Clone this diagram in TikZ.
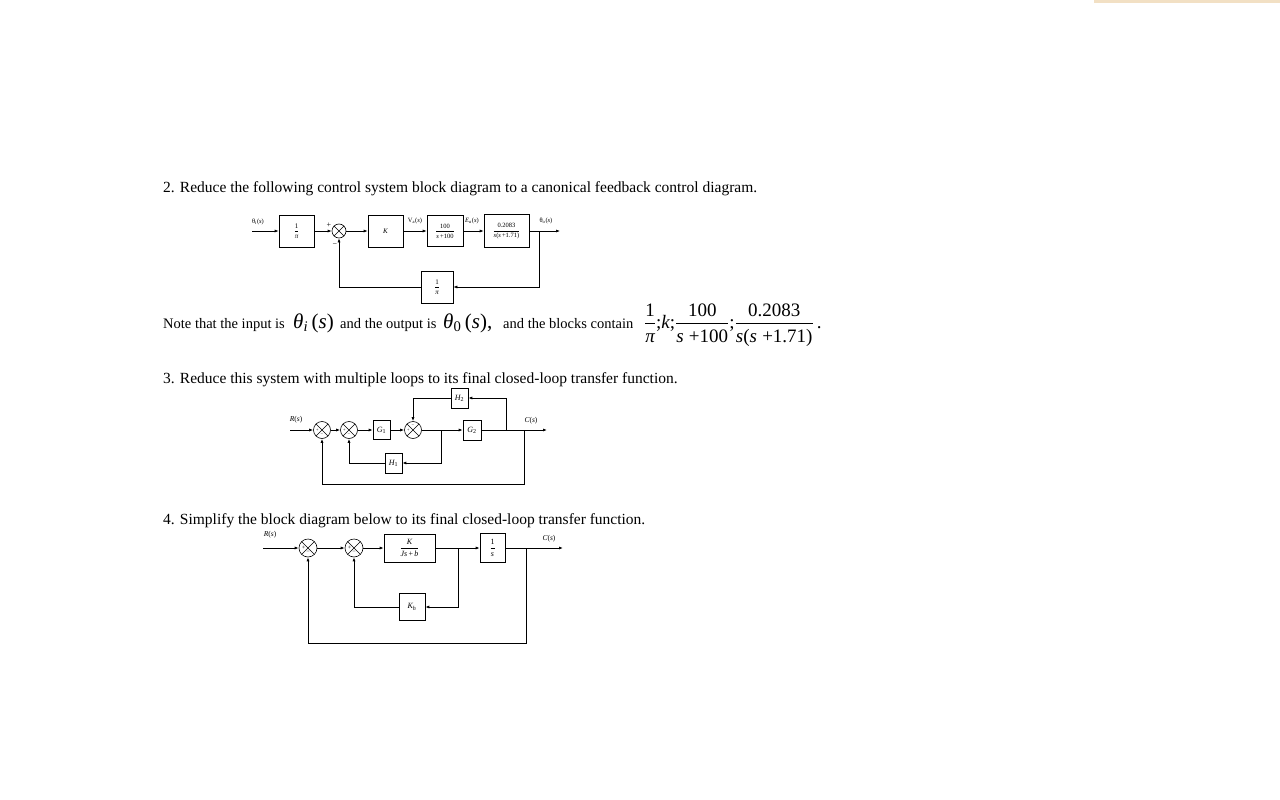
\documentclass[tikz,border=0pt]{standalone}
\usepackage{fontspec}
\setmainfont{Liberation Serif}
\usetikzlibrary{arrows.meta,calc}
\definecolor{tanline}{HTML}{F2E0C4}
\newcommand{\fs}[1]{\fontsize{#1}{#1}\selectfont}
\newcommand{\fr}[2]{$\displaystyle\frac{\mbox{#1}}{\mbox{#2}}$}
\newcommand{\numr}[1]{\mbox{#1\rule[-3pt]{0pt}{3pt}}}
\newcommand{\denr}[1]{\mbox{\rule{0pt}{17pt}#1}}
\begin{document}
\begin{tikzpicture}[x=1pt,y=-1pt,
  blk/.style={draw, line width=0.6pt, inner sep=0pt},
  sj/.style={circle, draw, line width=0.6pt, inner sep=0pt, minimum size=#1,
    path picture={\draw[line width=0.5pt] (path picture bounding box.north west)--(path picture bounding box.south east)
      (path picture bounding box.south west)--(path picture bounding box.north east);}},
  arr/.style={-{Latex[length=4pt,width=3pt]}},
  wa/.style={line width=0.6pt},
  wb/.style={line width=1pt},
  txt/.style={anchor=base west, inner sep=0pt, font=\fs{15.5}},
  ntxt/.style={anchor=base west, inner sep=0pt, font=\fs{14.5}},
  lab/.style={inner sep=0pt, font=\fs{6.5}},
  sgn/.style={inner sep=0pt, font=\fs{8}}
]
\useasboundingbox (0,0) rectangle (1280,800);
\fill[tanline] (1094,0) rectangle (1280,3);

% ---------- headings ----------
\node[txt] (h2) at (163,192) {2. Reduce the following control system block diagram to a canonical feedback control diagram.};
\node[txt] (h3) at (163,383) {3. Reduce this system with multiple loops to its final closed-loop transfer function.};
\node[txt] (h4) at (163,524) {4. Simplify the block diagram below to its final closed-loop transfer function.};

% ---------- note line ----------
\node[ntxt] (n1) at (163,328) {Note that the input is};
\node[ntxt, font=\fs{21}] (n2) at (293,328) {\itshape θ\textsubscript{i}\upshape\,(\itshape s\upshape)};
\node[ntxt] (n3) at (340,328) {and the output is};
\node[ntxt, font=\fs{21}] (n4) at (443,328) {\itshape θ\textsubscript{\upshape 0}\upshape\,(\itshape s\upshape),};
\node[ntxt] (n5) at (503,328) {and the blocks contain};
\node[ntxt, font=\fs{19}] (n6) at (644,328) {$\displaystyle\frac{\numr{1}}{\denr{\itshape π}}\mbox{;\itshape k\upshape;}\frac{\numr{100}}{\denr{\itshape s\upshape\;+100}}\mbox{;}\frac{\numr{0.2083}}{\denr{\itshape s\upshape(\itshape s\upshape\;+1.71)}}\mbox{\,.}$};

% ---------- diagram 1 ----------
\coordinate (in1) at (252,231);
\node[blk, minimum width=35pt, minimum height=32pt] (b1) at (296.5,231) {\fs{7}\fr{1}{\itshape π}};
\node[sj=14pt] (s1) at (339,231) {};
\node[blk, minimum width=35pt, minimum height=32pt] (bK) at (385.5,231) {\fs{7}\itshape K};
\node[blk, minimum width=36pt, minimum height=31pt] (b100) at (445,231) {\fs{6.5}\fr{100}{\itshape s\upshape\,+100}};
\node[blk, minimum width=45pt, minimum height=33pt] (bP) at (506.5,231) {\fs{6.5}\fr{0.2083}{\itshape s\upshape(\itshape s\upshape\,+1.71)}};
\coordinate (p1) at (539,231);
\coordinate (o1) at (560,231);
\node[blk, minimum width=32pt, minimum height=32pt] (bF) at (437,287) {\fs{7}\fr{1}{\itshape π}};
\draw[wa,arr] (in1) -- (b1);
\draw[wa,arr] (b1) -- (s1);
\draw[wa,arr] (s1) -- (bK);
\draw[wa,arr] (bK) -- (b100);
\draw[wa,arr] (b100) -- (bP);
\draw[wa,arr] (bP) -- (o1);
\draw[wa,arr] (p1) |- (bF);
\draw[wa,arr] (bF) -| (s1);
\node[lab] (l1) at (258,222) {θ\textsubscript{i}(\itshape s\upshape)};
\node[lab] (l2) at (415,221) {V\textsubscript{a}(\itshape s\upshape)};
\node[lab] (l3) at (472,221) {\itshape E\textsubscript{a}\upshape(\itshape s\upshape)};
\node[lab] (l4) at (546,221) {θ\textsubscript{o}(\itshape s\upshape)};
\node[sgn] (sp1) at (329,225) {+};
\node[sgn] (sm1) at (335,245) {−};

% ---------- diagram 3 ----------
\coordinate (in3) at (290,430);
\node[sj=17pt] (c1) at (322,430) {};
\node[sj=17pt] (c2) at (349,430) {};
\node[blk, minimum width=17pt, minimum height=19pt] (G1) at (381.5,430) {\fs{8}\itshape G\textsubscript{\upshape 1}};
\node[sj=17pt] (c3) at (413,430) {};
\node[blk, minimum width=18pt, minimum height=20pt] (G2) at (472,430) {\fs{8}\itshape G\textsubscript{\upshape 2}};
\node[blk, minimum width=17pt, minimum height=20pt] (H1) at (393.5,463) {\fs{8}\itshape H\textsubscript{\upshape 1}};
\node[blk, minimum width=17pt, minimum height=20pt] (H2) at (459.5,398) {\fs{8}\itshape H\textsubscript{\upshape 2}};
\coordinate (q1) at (441,430);
\coordinate (q2) at (506,430);
\coordinate (q3) at (524,430);
\coordinate (o3) at (547,430);
\coordinate (r3) at (322,484);
\draw[wb,arr] (in3) -- (c1);
\draw[wb,arr] (c1) -- (c2);
\draw[wb,arr] (c2) -- (G1);
\draw[wb,arr] (G1) -- (c3);
\draw[wb,arr] (c3) -- (G2);
\draw[wb,arr] (G2) -- (o3);
\draw[wb,arr] (q1) |- (H1);
\draw[wb,arr] (H1) -| (c2);
\draw[wb,arr] (q2) |- (H2);
\draw[wb,arr] (H2) -| (c3);
\draw[wb] (q3) |- (r3);
\draw[wb,arr] (r3) -- (c1);
\node[lab, font=\fs{7.5}] (lr3) at (296,420) {\itshape R\upshape(\itshape s\upshape)};
\node[lab, font=\fs{7.5}] (lc3) at (531,421) {\itshape C\upshape(\itshape s\upshape)};
\foreach \c in {c1,c2,c3} {
  \node[sgn, font=\fs{4.5}] at ($(\c)+(-4.5,0)$) {+};
}
\node[sgn, font=\fs{4.5}] at ($(c1)+(0,4.5)$) {−};
\node[sgn, font=\fs{4.5}] at ($(c2)+(0,4.5)$) {−};
\node[sgn, font=\fs{4.5}] at ($(c3)+(0,-4.5)$) {−};

% ---------- diagram 4 ----------
\coordinate (in4) at (263,548);
\node[sj=18pt] (d1) at (308,548) {};
\node[sj=18pt] (d2) at (354,548) {};
\node[blk, minimum width=51pt, minimum height=28pt] (KJ) at (409.5,548) {\fs{8}\fr{\itshape K}{\itshape Js\upshape\,+\,\itshape b}};
\node[blk, minimum width=25pt, minimum height=29pt] (S) at (492.5,548) {\fs{8}\fr{1}{\itshape s}};
\node[blk, minimum width=26pt, minimum height=27pt] (Kh) at (412,607) {\fs{8}\itshape K\textsubscript{h}};
\coordinate (t1) at (458,548);
\coordinate (t2) at (526,548);
\coordinate (o4) at (563,548);
\coordinate (r4) at (308,643);
\draw[wb,arr] (in4) -- (d1);
\draw[wb,arr] (d1) -- (d2);
\draw[wb,arr] (d2) -- (KJ);
\draw[wb,arr] (KJ) -- (S);
\draw[wb,arr] (S) -- (o4);
\draw[wb,arr] (t1) |- (Kh);
\draw[wb,arr] (Kh) -| (d2);
\draw[wb] (t2) |- (r4);
\draw[wb,arr] (r4) -- (d1);
\node[lab, font=\fs{7.5}] (lr4) at (270,535) {\itshape R\upshape(\itshape s\upshape)};
\node[lab, font=\fs{7.5}] (lc4) at (549,539) {\itshape C\upshape(\itshape s\upshape)};
\foreach \c in {d1,d2} {
  \node[sgn, font=\fs{6}] at ($(\c)+(-4.5,-0.5)$) {+};
  \node[sgn, font=\fs{6}] at ($(\c)+(0,4.5)$) {−};
}
\end{tikzpicture}
\end{document}
